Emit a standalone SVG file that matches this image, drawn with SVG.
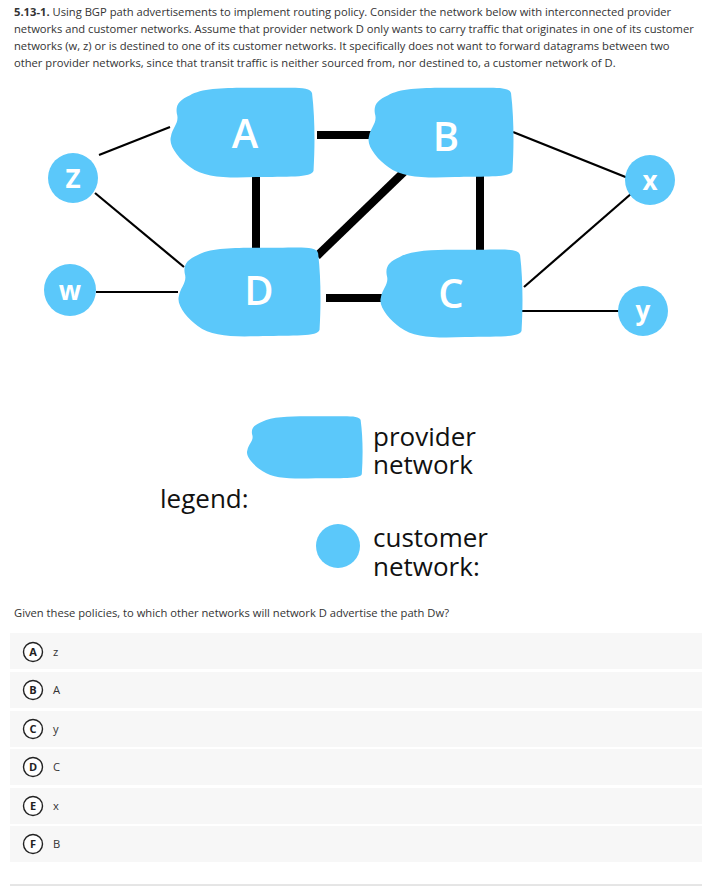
<svg xmlns="http://www.w3.org/2000/svg" width="712" height="889" viewBox="0 0 712 889">
<style>
.t{font-family:"Open Sans",sans-serif;font-size:11.2px;fill:#333}
.lbl{font-family:"Open Sans",sans-serif;font-weight:600;font-size:40px;fill:#fff;text-anchor:middle}
.sl{font-family:"Open Sans",sans-serif;font-weight:700;font-size:26px;fill:#fff;text-anchor:middle}
.lg{font-family:"Open Sans",sans-serif;font-size:26px;fill:#111}
.blob{fill:#5bc8fa}
.thin{stroke:#000;stroke-width:2.2}
.thick{stroke:#000;stroke-width:8}
.row{fill:#f7f7f7}
.oc{fill:#fff;stroke:#222;stroke-width:1.4}
.ol{font-family:"Open Sans",sans-serif;font-weight:700;font-size:11px;fill:#222;text-anchor:middle}
</style>
<defs>
<path id="b" d="M15,10 C25,0 50,2 70,2 C85,2 97,0 98,8 C100,35 100,65 99,92 C98,100 80,98 60,99 C40,100 25,100 15,88 C8,80 0,65 2,55 C3,45 8,40 6,30 C5,20 8,15 15,10 Z"/>
</defs>
<rect width="712" height="889" fill="#fff"/>
<g id="header">
<text class="t" x="14" y="16"><tspan font-weight="700">5.13-1.</tspan> Using BGP path advertisements to implement routing policy. Consider the network below with interconnected provider</text>
<text class="t" x="14" y="33">networks and customer networks. Assume that provider network D only wants to carry traffic that originates in one of its customer</text>
<text class="t" x="14" y="50">networks (w, z) or is destined to one of its customer networks. It specifically does not want to forward datagrams between two</text>
<text class="t" x="14" y="67">other provider networks, since that transit traffic is neither sourced from, nor destined to, a customer network of D.</text>
</g>
<g id="connectors">
<line class="thin" x1="99" y1="155" x2="170" y2="127"/>
<line class="thin" x1="95" y1="193" x2="184" y2="267"/>
<line class="thin" x1="96" y1="292" x2="178" y2="292"/>
<line class="thick" x1="317" y1="135" x2="372" y2="135"/>
<line class="thick" x1="256" y1="176" x2="256" y2="249"/>
<line class="thick" x1="406" y1="170" x2="317" y2="256" stroke-width="10"/>
<line class="thick" x1="480" y1="176" x2="480" y2="250"/>
<line class="thick" x1="326" y1="298" x2="382" y2="298"/>
<line class="thin" x1="513" y1="132" x2="628" y2="178"/>
<line class="thin" x1="524" y1="287" x2="632" y2="193"/>
<line class="thin" x1="522" y1="311" x2="620" y2="311"/>
</g>
<g id="A"><use href="#b" class="blob" transform="translate(168,86) scale(1.47,0.92)"/><text class="lbl" x="245" y="148">A</text></g>
<g id="B"><use href="#b" class="blob" transform="translate(366,86) scale(1.48,0.92)"/><text class="lbl" x="446" y="151">B</text></g>
<g id="D"><use href="#b" class="blob" transform="translate(176,246) scale(1.45,0.91)"/><text class="lbl" x="259" y="305">D</text></g>
<g id="C"><use href="#b" class="blob" transform="translate(378,248) scale(1.45,0.90)"/><text class="lbl" x="451" y="308">C</text></g>
<g id="z"><circle class="blob" cx="73" cy="178" r="25"/><text class="sl" x="73" y="188">Z</text></g>
<g id="x"><circle class="blob" cx="650" cy="180" r="25"/><text class="sl" x="650" y="190">x</text></g>
<g id="w"><circle class="blob" cx="70" cy="290" r="26"/><text class="sl" x="70" y="300">w</text></g>
<g id="y"><circle class="blob" cx="643" cy="311" r="25"/><text class="sl" x="643" y="320">y</text></g>
<g id="legend">
<use href="#b" class="blob" transform="translate(245,415) scale(1.18,0.64)"/>
<text class="lg" x="373" y="446">provider</text>
<text class="lg" x="373" y="474">network</text>
<text class="lg" x="160" y="508">legend:</text>
<circle class="blob" cx="338" cy="546" r="22"/>
<text class="lg" x="373" y="547">customer</text>
<text class="lg" x="373" y="576">network:</text>
</g>
<g id="question">
<text class="t" x="14" y="617">Given these policies, to which other networks will network D advertise the path Dw?</text>
<g><rect class="row" x="10" y="633" width="692" height="36"/><circle class="oc" cx="33" cy="652" r="9.5"/><text class="ol" x="33" y="656">A</text><text class="t" x="53" y="656">z</text></g>
<g><rect class="row" x="10" y="672" width="692" height="36"/><circle class="oc" cx="33" cy="690" r="9.5"/><text class="ol" x="33" y="694">B</text><text class="t" x="53" y="694">A</text></g>
<g><rect class="row" x="10" y="711" width="692" height="36"/><circle class="oc" cx="33" cy="729" r="9.5"/><text class="ol" x="33" y="733">C</text><text class="t" x="53" y="733">y</text></g>
<g><rect class="row" x="10" y="749" width="692" height="36"/><circle class="oc" cx="33" cy="767" r="9.5"/><text class="ol" x="33" y="771">D</text><text class="t" x="53" y="771">C</text></g>
<g><rect class="row" x="10" y="788" width="692" height="36"/><circle class="oc" cx="33" cy="806" r="9.5"/><text class="ol" x="33" y="810">E</text><text class="t" x="53" y="810">x</text></g>
<g><rect class="row" x="10" y="826" width="692" height="36"/><circle class="oc" cx="33" cy="844" r="9.5"/><text class="ol" x="33" y="848">F</text><text class="t" x="53" y="848">B</text></g>
<line x1="10" y1="885" x2="702" y2="885" stroke="#ccc" stroke-width="1"/>
</g>
</svg>
